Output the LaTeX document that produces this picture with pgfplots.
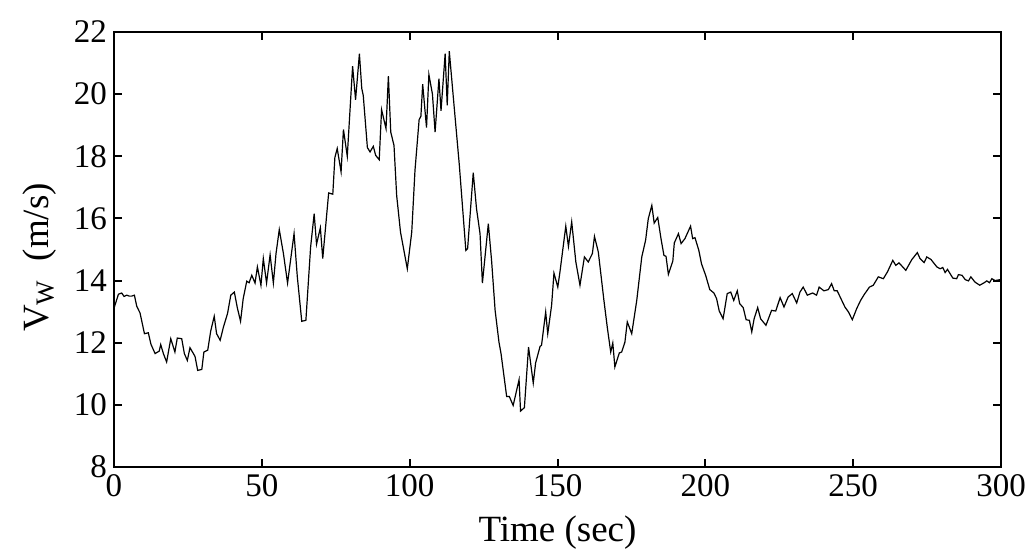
\documentclass[border=0pt]{standalone}
\usepackage{pgfplots}
\pgfplotsset{compat=1.18}
\usepackage{fontspec}
\setmainfont{Liberation Serif}
\begin{document}
\begin{tikzpicture}
\path[use as bounding box] (-57pt,-44pt) rectangle (458.5pt,233.5pt);
\begin{axis}[
  at={(0,0)}, anchor=south west,
  scale only axis, width=443.5pt, height=217.5pt,
  xmin=0, xmax=300, ymin=8, ymax=22,
  xtick={0,50,...,300}, ytick={8,10,...,22},
  tick align=inside, major tick length=4pt,
  axis line style={line width=1pt}, every tick/.style={line width=1pt, black},
  /pgf/number format/assume math mode=true,
  ticklabel style={font=\fontsize{16.5}{18}\selectfont},
  label style={font=\fontsize{18.5}{20}\selectfont},
  xlabel={Time (sec)},
  ylabel={V\textsubscript{W}\ \ (m/s)},
  xlabel style={yshift=-3pt},
  ylabel style={yshift=2pt, xshift=-4pt},
]
\addplot[black, line width=0.6pt] coordinates {
(0,13.1)(0.3,13.2)(1.5,13.56)(2.6,13.6)(3.4,13.49)(4.3,13.53)(5.2,13.5)(6.0,13.5)(6.9,13.53)(7.7,13.17)(8.8,12.96)(10.3,12.29)(11.6,12.32)(12.5,11.95)(13.9,11.65)(15.3,11.73)(15.8,11.94)(16.7,11.65)(17.8,11.38)(19.2,12.13)(20.6,11.7)(21.4,12.15)(22.9,12.13)(23.8,11.65)(24.8,11.43)(25.7,11.84)(27.4,11.56)(28.3,11.11)(29.7,11.14)(30.4,11.7)(31.7,11.76)(32.7,12.37)(33.9,12.85)(34.7,12.29)(35.9,12.08)(37.0,12.5)(38.4,12.94)(39.5,13.53)(40.7,13.63)(41.7,13.13)(42.8,12.69)(43.7,13.42)(44.9,13.98)(45.7,13.93)(46.6,14.17)(47.7,13.92)(48.5,14.44)(49.7,13.85)(50.5,14.71)(51.6,13.92)(52.8,14.83)(53.9,13.92)(54.8,14.87)(55.9,15.64)(57.3,14.87)(58.7,13.92)(60.9,15.51)(62.0,14.12)(63.5,12.69)(64.9,12.72)(66.5,15.08)(67.7,16.15)(68.5,15.17)(69.8,15.7)(70.6,14.71)(72.6,16.82)(74.0,16.78)(74.7,17.96)(75.5,18.25)(76.8,17.5)(77.6,18.86)(78.9,18.0)(80.7,20.9)(81.7,19.82)(83.0,21.3)(83.8,20.18)(84.3,19.96)(85.7,18.28)(86.6,18.14)(87.7,18.32)(88.5,18.03)(89.7,17.89)(90.5,19.5)(92.0,18.89)(92.8,20.58)(93.6,18.78)(94.7,18.35)(95.6,16.74)(96.9,15.56)(99.2,14.38)(100.7,15.56)(101.8,17.55)(103.2,19.18)(103.8,19.29)(104.4,20.32)(105.7,18.92)(106.5,20.63)(107.7,20.0)(108.6,18.78)(109.9,20.5)(110.6,19.46)(112.0,21.3)(112.7,19.64)(113.4,21.38)(114.8,19.86)(116.8,17.71)(119.0,14.97)(119.6,15.03)(121.5,17.47)(122.6,16.32)(123.8,15.51)(124.6,13.92)(126.6,15.83)(127.7,14.65)(128.9,13.04)(130.2,12.02)(130.9,11.65)(132.8,10.27)(133.7,10.27)(135.0,9.98)(137.0,10.81)(137.5,9.8)(138.8,9.91)(140.2,11.86)(141.8,10.7)(142.6,11.35)(144.1,11.88)(144.6,11.92)(146.0,12.99)(146.7,12.29)(148.0,13.2)(148.8,14.24)(150.1,13.79)(150.9,14.33)(152.8,15.75)(153.7,15.1)(154.8,15.89)(156.2,14.6)(157.6,13.85)(159.1,14.76)(160.4,14.6)(161.8,14.87)(162.5,15.42)(163.8,14.92)(165.7,13.36)(166.9,12.45)(168.0,11.7)(168.7,11.99)(169.4,11.22)(170.9,11.67)(171.7,11.7)(172.8,12.02)(173.6,12.67)(175.1,12.29)(176.8,13.36)(178.5,14.76)(179.8,15.3)(180.7,15.99)(181.9,16.42)(182.7,15.85)(183.9,16.03)(185.0,15.35)(186.0,14.81)(186.7,14.78)(187.5,14.2)(189.0,14.63)(189.5,15.21)(190.9,15.51)(191.8,15.19)(193.1,15.35)(195.0,15.75)(195.7,15.35)(196.5,15.38)(197.8,14.97)(198.7,14.54)(200.1,14.17)(201.5,13.71)(202.9,13.6)(203.8,13.42)(204.7,13.02)(206.0,12.77)(207.4,13.58)(208.6,13.63)(209.6,13.36)(210.8,13.67)(211.6,13.26)(212.8,13.13)(213.8,12.74)(214.9,12.72)(215.7,12.35)(216.5,12.77)(217.7,13.13)(218.7,12.77)(220.5,12.56)(222.4,13.04)(223.8,13.02)(225.3,13.45)(226.6,13.15)(228.0,13.47)(229.4,13.58)(230.9,13.28)(232.0,13.63)(233.1,13.79)(234.5,13.53)(236.3,13.6)(237.6,13.53)(238.5,13.79)(240.1,13.67)(241.6,13.71)(242.7,13.9)(243.6,13.67)(244.6,13.67)(245.5,13.49)(247.2,13.15)(248.4,12.99)(249.7,12.74)(251.2,13.1)(252.5,13.36)(253.8,13.56)(255.5,13.79)(256.8,13.85)(258.5,14.12)(260.2,14.06)(261.6,14.28)(263.4,14.65)(264.4,14.49)(265.5,14.57)(267.8,14.33)(269.8,14.67)(271.7,14.9)(272.6,14.71)(274.0,14.58)(274.9,14.76)(276.3,14.68)(278.3,14.44)(279.4,14.38)(280.3,14.42)(281.1,14.26)(281.9,14.36)(283.7,14.08)(285.0,14.06)(285.6,14.19)(286.8,14.17)(287.9,14.03)(289.0,13.99)(289.8,14.12)(291.2,13.95)(292.8,13.85)(294.3,13.93)(295.2,13.99)(296.1,13.93)(296.9,14.06)(298.0,14.0)(299.7,14.03)(300,14.0)
};
\end{axis}
\end{tikzpicture}
\end{document}
